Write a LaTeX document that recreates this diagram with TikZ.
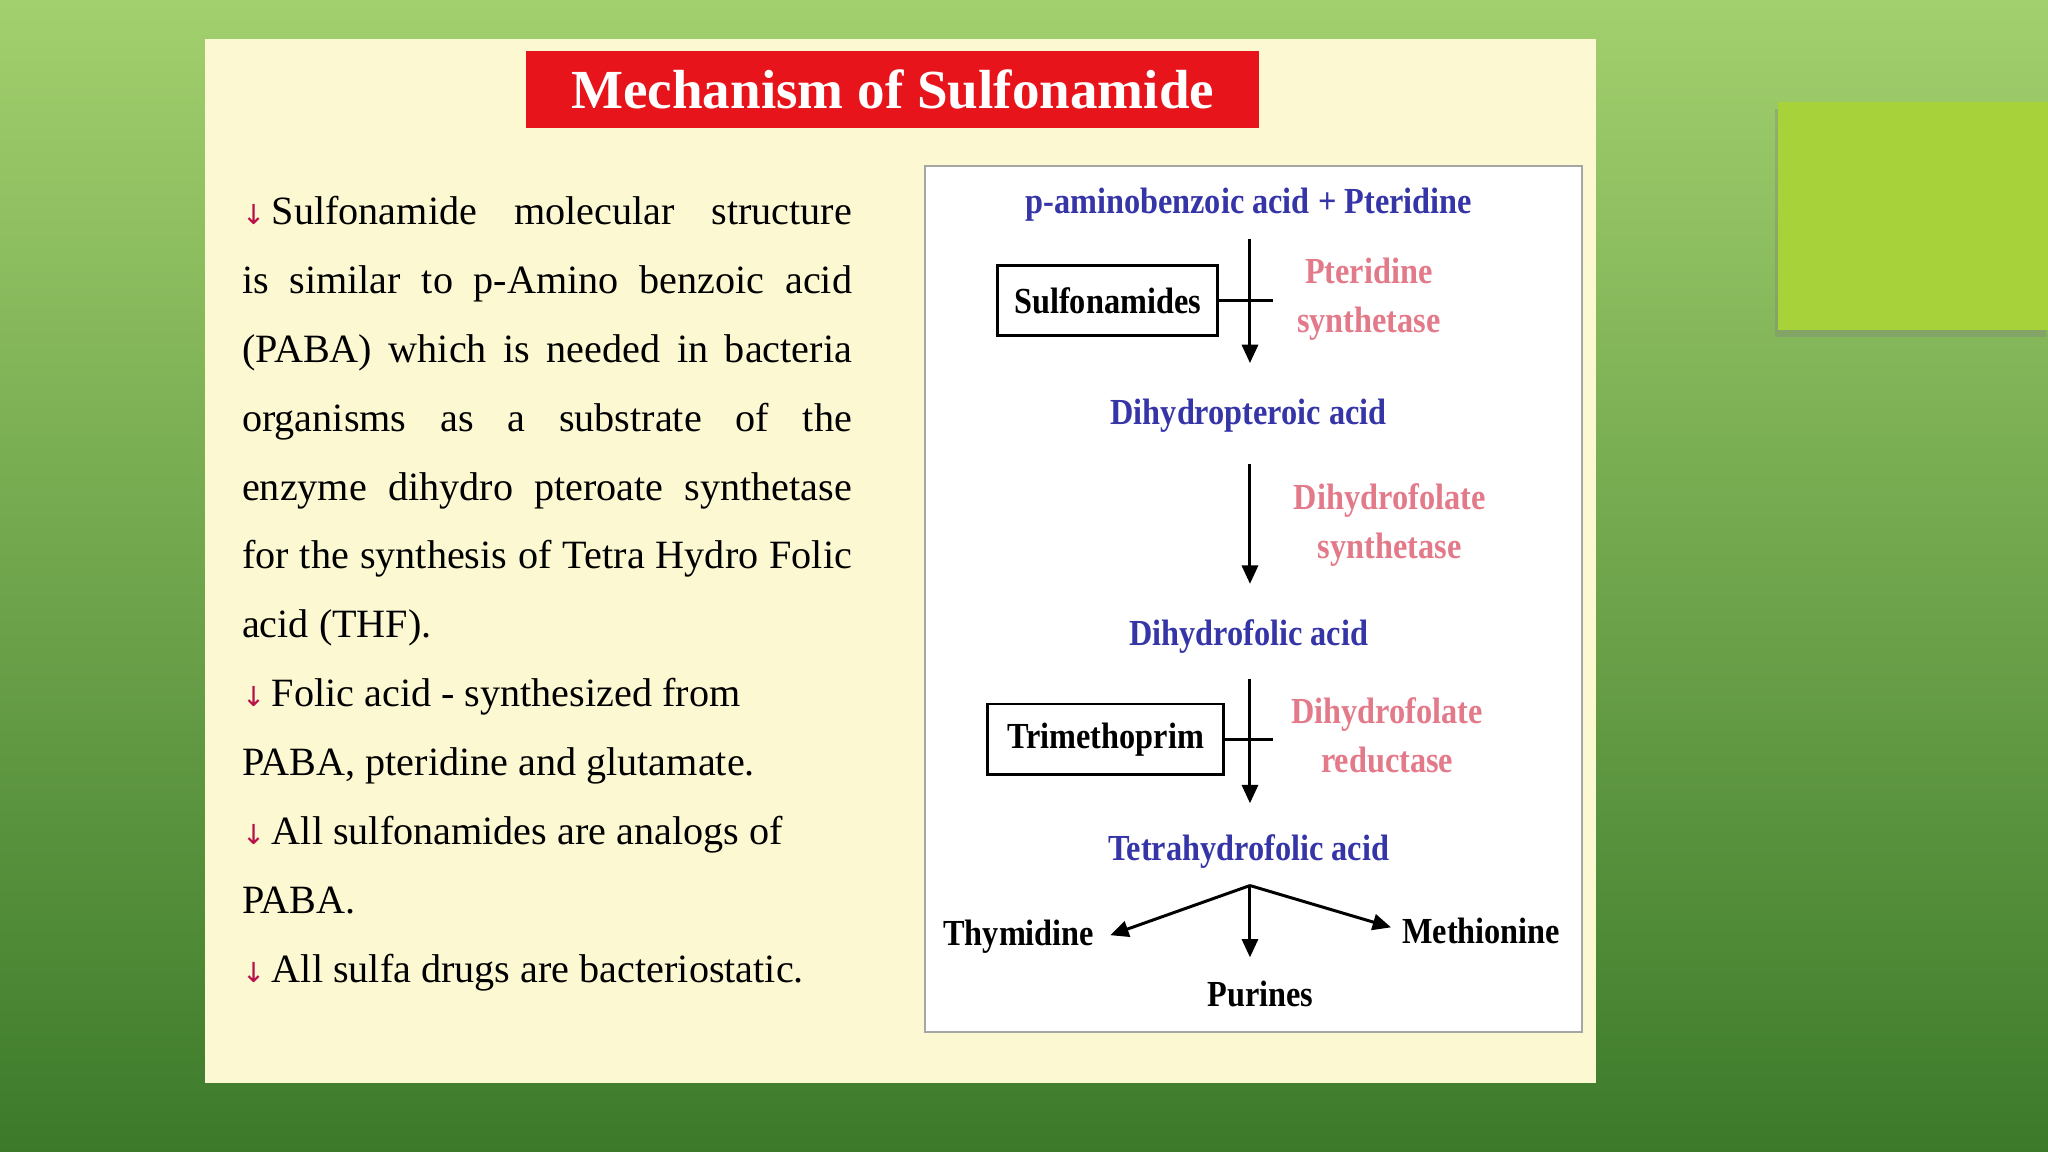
\documentclass[tikz,border=0pt]{standalone}
\usepackage{fontspec}
\setmainfont{Liberation Serif}
\newfontfamily\dgf[FakeStretch=0.88]{Liberation Serif}
\newfontfamily\symf{DejaVu Sans}
\usetikzlibrary{arrows.meta,shadows}
\definecolor{bgA}{HTML}{A3D06E}
\definecolor{bgB}{HTML}{3C7A2A}
\definecolor{panel}{HTML}{FCF8D2}
\definecolor{ttl}{HTML}{E8141B}
\definecolor{blu}{HTML}{3535A8}
\definecolor{pnk}{HTML}{E37A8A}
\definecolor{lime}{HTML}{A8D23A}
\newcommand{\bul}{{\fontsize{12pt}{12pt}\symf\textcolor{ttl!80!blue}{↓}}\,}
\tikzset{
 lbl/.style={font=\dgf\bfseries\fontsize{16pt}{17pt}\selectfont,text=blu,inner sep=1pt},
 enz/.style={font=\dgf\bfseries\fontsize{16pt}{21.5pt}\selectfont,text=pnk,align=center,inner sep=1pt},
 blk/.style={font=\dgf\bfseries\fontsize{16pt}{17pt}\selectfont,inner sep=1pt},
 drug/.style={draw,line width=1.3pt,minimum height=10.8mm,inner sep=1pt,font=\dgf\bfseries\fontsize{16pt}{17pt}\selectfont},
 ln/.style={line width=1.3pt},
 arr/.style={ln,-{Triangle[length=8pt,width=7pt]}}
}
\begin{document}
\begin{tikzpicture}[x=0.2mm,y=-0.2mm]
\useasboundingbox (0,0) rectangle (1568,882);
\shade[left color=bgA,right color=bgB,shading angle=0] (0,0) rectangle (1568,882);
\shade[top color=bgA,bottom color=bgB,opacity=0.35] (0,0) rectangle (1568,882);
\fill[lime,drop shadow={shadow xshift=-1pt,shadow yshift=-3pt,opacity=0.35}] (1361,78) rectangle (1568,253);
\fill[panel] (157,30) rectangle (1222,829);
\node[fill=ttl,minimum width=112.2mm,minimum height=11.8mm,text=white,font=\bfseries\fontsize{24pt}{25pt}\selectfont] (title) at (683.5,68.5) {Mechanism of Sulfonamide};
\node[anchor=north west,text width=93.4mm,align=justify,inner sep=0pt,font=\fontsize{17.5pt}{30pt}\selectfont] (body) at (185,150)
 {\hyphenpenalty=10000 \bul Sulfonamide molecular structure\linebreak is similar to p-Amino benzoic acid\linebreak (PABA) which is needed in bacteria\linebreak organisms as a substrate of the\linebreak enzyme dihydro pteroate synthetase\linebreak for the synthesis of Tetra Hydro Folic\linebreak acid (THF).\par
 \raggedright\bul Folic acid - synthesized from\\ PABA, pteridine and glutamate.\par
 \bul All sulfonamides are analogs of\\ PABA.\par
 \bul All sulfa drugs are bacteriostatic.\par};
\draw[fill=white,draw=gray!70,line width=1pt] (708,127) rectangle (1211,790);
\node[lbl] (paba) at (956,157) {p-aminobenzoic acid + Pteridine};
\node[lbl] (dhp) at (956,318) {Dihydropteroic acid};
\node[lbl] (dhf) at (956,487) {Dihydrofolic acid};
\node[lbl] (thf) at (956,652) {Tetrahydrofolic acid};
\node[drug,minimum width=33.6mm] (sulf) at (848,230) {Sulfonamides};
\node[drug,minimum width=36.2mm] (tmp) at (846.5,566) {Trimethoprim};
\node[enz] (e1) at (1048,229) {Pteridine\\synthetase};
\node[enz] (e2) at (1064,402) {Dihydrofolate\\synthetase};
\node[enz] (e3) at (1062,563) {Dihydrofolate\\reductase};
\node[blk] (thy) at (780,717) {Thymidine};
\node[blk] (met) at (1134,713) {Methionine};
\node[blk] (pur) at (965,761) {Purines};
\coordinate (a1) at (957,183); \coordinate (b1) at (957,278);
\coordinate (a2) at (957,355); \coordinate (b2) at (957,447);
\coordinate (a3) at (957,520); \coordinate (b3) at (957,615);
\coordinate (h1) at (975,230); \coordinate (h3) at (975,566);
\coordinate (br) at (957,678); \coordinate (bd) at (957,733);
\draw[arr] (a1) -- (b1);
\draw[ln] (sulf.east) -- (h1);
\draw[arr] (a2) -- (b2);
\draw[arr] (a3) -- (b3);
\draw[ln] (tmp.east) -- (h3);
\draw[arr] (br) -- (bd);
\draw[arr] (br) -- (850,716) coordinate (tl);
\draw[arr] (br) -- (1065,710) coordinate (tr);
\end{tikzpicture}
\end{document}
